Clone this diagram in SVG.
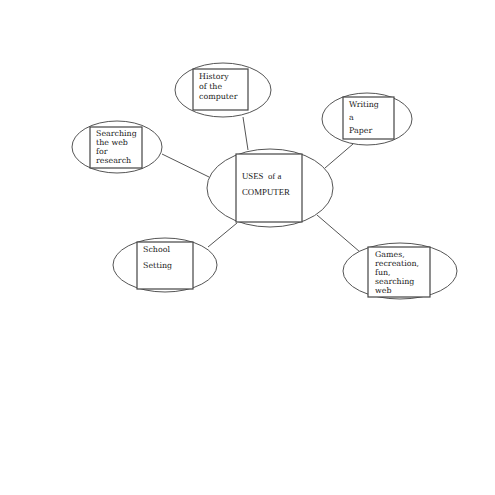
<svg xmlns="http://www.w3.org/2000/svg" width="495" height="495" viewBox="0 0 495 495">
<style>
.e{fill:#fff;stroke:#555;stroke-width:1}
.r{fill:#fff;stroke:#444;stroke-width:1.2}
.c{stroke:#555;stroke-width:1;fill:none}
text{font-family:"DejaVu Serif","Liberation Serif",serif;font-size:7.9px;fill:#1a1a1a}
text.m{font-family:"Liberation Serif",serif;font-size:8.8px;white-space:pre}
</style>
<rect width="495" height="495" fill="#fff"/>
<g id="connectors">
<line class="c" x1="243" y1="117" x2="248" y2="150"/>
<line class="c" x1="162" y1="154" x2="209" y2="177"/>
<line class="c" x1="353" y1="144" x2="325" y2="168"/>
<line class="c" x1="208" y1="247" x2="237" y2="223"/>
<line class="c" x1="317" y1="215" x2="360" y2="252"/>
</g>
<g id="center">
<ellipse class="e" cx="270" cy="188" rx="63" ry="39"/>
<rect class="r" x="236" y="154" width="66" height="68"/>
<text class="m" x="242" y="179" xml:space="preserve">USES  of a</text>
<text class="m" x="242" y="195">COMPUTER</text>
</g>
<g id="history">
<ellipse class="e" cx="223" cy="90" rx="48" ry="27"/>
<rect class="r" x="193" y="69" width="55" height="41"/>
<text x="199" y="79">History</text>
<text x="199" y="89">of the</text>
<text x="199" y="99">computer</text>
</g>
<g id="searching">
<ellipse class="e" cx="117" cy="147" rx="45" ry="26"/>
<rect class="r" x="90" y="127" width="52" height="41"/>
<text x="96" y="136">Searching</text>
<text x="96" y="145">the web</text>
<text x="96" y="154">for</text>
<text x="96" y="163">research</text>
</g>
<g id="writing">
<ellipse class="e" cx="367" cy="119" rx="45" ry="26"/>
<rect class="r" x="343" y="97" width="51" height="42"/>
<text x="349" y="107">Writing</text>
<text x="349" y="120">a</text>
<text x="349" y="133">Paper</text>
</g>
<g id="school">
<ellipse class="e" cx="165" cy="265" rx="52" ry="27"/>
<rect class="r" x="137" y="242" width="56" height="47"/>
<text x="143" y="252">School</text>
<text x="143" y="268">Setting</text>
</g>
<g id="games">
<ellipse class="e" cx="400" cy="271" rx="57" ry="28"/>
<rect class="r" x="368" y="247" width="62" height="50"/>
<text x="375" y="257">Games,</text>
<text x="375" y="266">recreation,</text>
<text x="375" y="275">fun,</text>
<text x="375" y="284">searching</text>
<text x="375" y="293">web</text>
</g>
</svg>
